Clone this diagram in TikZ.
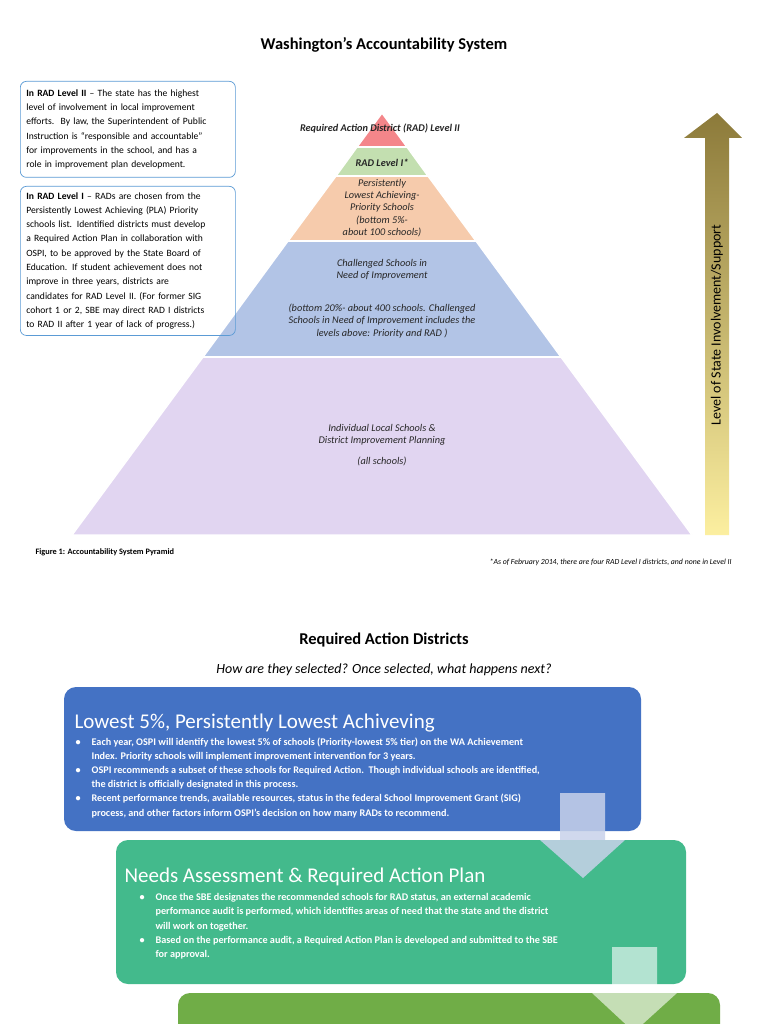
\documentclass[tikz,border=0pt]{standalone}
\usepackage{fontspec}
\setmainfont{Carlito}
\usetikzlibrary{shapes.geometric}
\definecolor{pred}{HTML}{F4868A}
\definecolor{pgreen}{HTML}{C3DFB0}
\definecolor{porange}{HTML}{F6CBAC}
\definecolor{pblue}{HTML}{B2C4E6}
\definecolor{ppurple}{HTML}{E1D5F1}
\definecolor{bxborder}{HTML}{5B9BD5}
\definecolor{cblue}{HTML}{4472C4}
\definecolor{cteal}{HTML}{43BA8C}
\definecolor{cgreen}{HTML}{70AD47}
\definecolor{arrtop}{HTML}{8C7A3A}
\definecolor{arrbot}{HTML}{FCEFA0}
\definecolor{flow}{HTML}{C8D2EA}
\tikzset{
  band/.style={draw=white,line width=1.5pt},
  plab/.style={font=\fontsize{10.3}{12.5}\selectfont\itshape,align=center,text=black!85},
  infobox/.style={draw=bxborder,rounded corners=6pt,line width=0.7pt,text width=203pt,inner sep=6pt,anchor=north west,align=left,font=\fontsize{9.6}{14.3}\selectfont},
  card/.style={rounded corners=12pt},
  ctitle/.style={text=white,anchor=west,font=\fontsize{21}{23}\selectfont},
  cbody/.style={text=white,anchor=north west,align=left,font=\fontsize{10.2}{14.2}\selectfont\bfseries},
  flowarrow/.style={fill=flow,fill opacity=0.85,draw=none}
}
\begin{document}
\begin{tikzpicture}[x=1pt,y=-1pt]
\useasboundingbox (0,0) rectangle (768,1024);
\fill[white] (0,0) rectangle (768,1024);
\node[font=\fontsize{16.5}{18}\selectfont\bfseries] (title) at (384,45) {Washington’s Accountability System};
% pyramid
\fill[band,fill=ppurple] (203,357) -- (561,357) -- (692,535) -- (72,535) -- cycle;
\fill[band,fill=pblue] (288,241) -- (476,241) -- (561,357) -- (203,357) -- cycle;
\fill[band,fill=porange] (336,176) -- (428,176) -- (476,241) -- (288,241) -- cycle;
\fill[band,fill=pgreen] (357,147) -- (407,147) -- (428,176) -- (336,176) -- cycle;
\fill[band,fill=pred] (382,113) -- (407,147) -- (357,147) -- cycle;
\draw[white,line width=1.5pt] (203,357) -- (561,357) (288,241) -- (476,241) (336,176) -- (428,176) (357,147) -- (407,147);
\node[plab,font=\fontsize{10.3}{12}\selectfont\bfseries\itshape] (l2) at (380,128) {Required Action District (RAD) Level II};
\node[plab,font=\fontsize{10.3}{12}\selectfont\bfseries\itshape] (l1) at (382,163) {RAD Level I*};
\node[plab,font=\fontsize{10.3}{12.3}\selectfont\itshape] (pla) at (382,208) {Persistently\\Lowest Achieving-\\Priority Schools\\(bottom 5\%-\\about 100 schools)};
\node[plab] (ch) at (382,270) {Challenged Schools in\\Need of Improvement};
\node[plab,font=\fontsize{10.3}{12.6}\selectfont\itshape] (ch2) at (382,321) {(bottom 20\%- about 400 schools. Challenged\\Schools in Need of Improvement includes the\\levels above: Priority and RAD )};
\node[plab] (ind) at (382,435) {Individual Local Schools \&\\District Improvement Planning};
\node[plab] (all) at (382,461) {(all schools)};
% right arrow
\shade[top color=arrtop,bottom color=arrbot] (705,535) -- (705,138) -- (684,138) -- (717,113) -- (742,138) -- (729,138) -- (729,535) -- cycle;
\node[rotate=90,font=\fontsize{14}{16}\selectfont,text=black] (lvl) at (717,325) {Level of State Involvement/Support};
% info boxes
\node[infobox,minimum height=96pt] (b1) at (20,81) {\textbf{In RAD Level II} – The state has the highest\\level of involvement in local improvement\\efforts.\ \ By law, the Superintendent of Public\\Instruction is “responsible and accountable”\\for improvements in the school, and has a\\role in improvement plan development.};
\node[infobox] (b2) at (20,186) {\textbf{In RAD Level I} – RADs are chosen from the\\Persistently Lowest Achieving (PLA) Priority\\schools list. Identified districts must develop\\a Required Action Plan in collaboration with\\OSPI, to be approved by the State Board of\\Education. If student achievement does not\\improve in three years, districts are\\candidates for RAD Level II. (For former SIG\\cohort 1 or 2, SBE may direct RAD I districts\\to RAD II after 1 year of lack of progress.)};
\node[anchor=west,font=\fontsize{8.3}{9}\selectfont\bfseries] (fig) at (32,552) {Figure 1: Accountability System Pyramid};
\node[anchor=east,font=\fontsize{7.8}{9}\selectfont\itshape] (fn) at (735,562) {*As of February 2014, there are four RAD Level I districts, and none in Level II};
% lower part
\node[font=\fontsize{16.5}{18}\selectfont\bfseries] (rad) at (384,640) {Required Action Districts};
\node[font=\fontsize{14}{16}\selectfont\itshape] (sub) at (384,670) {How are they selected? Once selected, what happens next?};
\fill[card,fill=cblue] (64,687) rectangle (641,831);
\fill[card,fill=cteal] (116,840) rectangle (686,984);
\fill[card,fill=cgreen] (178,993) rectangle (720,1040);
\node[ctitle] (t1) at (71,723) {Lowest 5\%, Persistently Lowest Achiveving};
\node[cbody] (c1) at (72,734) {\textbullet\hspace{11pt}Each year, OSPI will identify the lowest 5\% of schools (Priority-lowest 5\% tier) on the WA Achievement\\
\hspace{16pt}Index. Priority schools will implement improvement intervention for 3 years.\\
\textbullet\hspace{11pt}OSPI recommends a subset of these schools for Required Action.\ \ Though individual schools are identified,\\
\hspace{16pt}the district is officially designated in this process.\\
\textbullet\hspace{11pt}Recent performance trends, available resources, status in the federal School Improvement Grant (SIG)\\
\hspace{16pt}process, and other factors inform OSPI’s decision on how many RADs to recommend.};
\node[ctitle] (t2) at (121,877) {Needs Assessment \& Required Action Plan};
\node[cbody] (c2) at (136,890) {\textbullet\hspace{11pt}Once the SBE designates the recommended schools for RAD status, an external academic\\
\hspace{16pt}performance audit is performed, which identifies areas of need that the state and the district\\
\hspace{16pt}will work on together.\\
\textbullet\hspace{11pt}Based on the performance audit, a Required Action Plan is developed and submitted to the SBE\\
\hspace{16pt}for approval.};
% flow arrows
\fill[flowarrow] (560,793) -- (605,793) -- (605,840) -- (625,840) -- (583,878) -- (540,840) -- (560,840) -- cycle;
\fill[flowarrow,fill=white,fill opacity=0.6] (612,947) -- (657,947) -- (657,993) -- (677,993) -- (634,1032) -- (592,993) -- (612,993) -- cycle;
\end{tikzpicture}
\end{document}
